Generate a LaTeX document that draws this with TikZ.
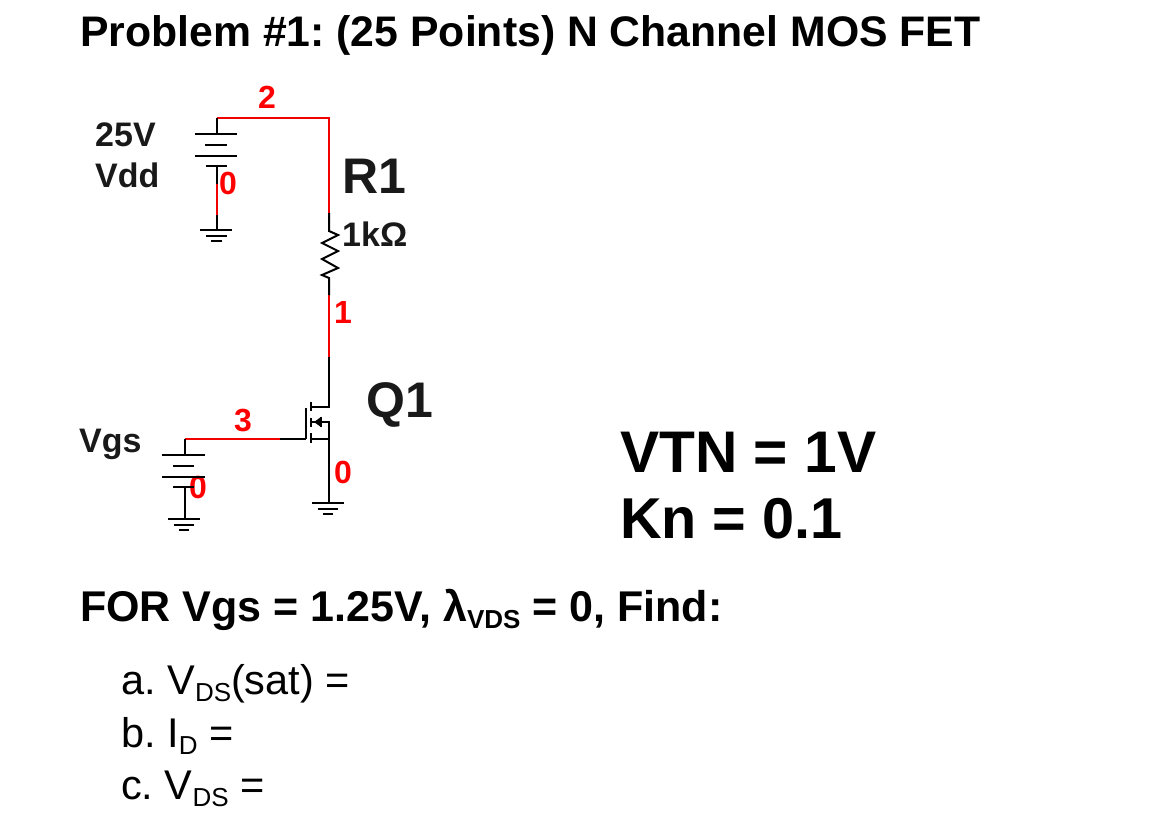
\documentclass[tikz,border=0pt]{standalone}
\usepackage{fontspec}
\setmainfont{Liberation Sans}
\newcommand{\fsz}[1]{\fontsize{#1}{#1}\selectfont}
\newcommand{\subt}[2]{\raisebox{-0.18em}{\fsz{#1}#2}}
\tikzset{
  wire/.style={line width=2pt,black},
  net/.style={line width=2pt,red!95!black},
  netlab/.style={inner sep=0pt,anchor=center,text=red,font=\fsz{32}\bfseries},
  schem/.style={inner sep=0pt,anchor=base west,text=black!90,font=\fsz{34}\bfseries},
  bigref/.style={inner sep=0pt,anchor=base west,font=\fsz{50}\bfseries,text=black!90},
  big/.style={inner sep=0pt,anchor=base west,text=black},
  head/.style={inner sep=0pt,anchor=base west,text=black},
  item/.style={inner sep=0pt,anchor=base west,text=black,font=\fsz{41.5}\frenchspacing}
}
\begin{document}
\begin{tikzpicture}[x=1pt,y=-1pt]
\useasboundingbox (0,0) rectangle (1171,823);
\fill[white] (0,0) rectangle (1171,823);
% Text
\node[head,font=\fsz{42.75}\bfseries\frenchspacing] (title) at (80,46) {Problem \#1: (25 Points) N Channel MOS FET};
\node[schem] (v25) at (95,146.5) {25V};
\node[schem] (vdd) at (95,187) {Vdd};
\node[schem] (vgs) at (79,452) {Vgs};
\node[bigref] (r1) at (342,193) {R1};
\node[schem] (rv) at (342,246) {1k\char"03A9};
\node[bigref] (q1) at (366,417) {Q1};
\node[big,font=\fsz{58.7}\bfseries] (vtn) at (620,472) {VTN = 1V};
\node[big,font=\fsz{57.6}\bfseries] (kn) at (620,538) {Kn = 0.1};
\node[head,font=\fsz{43}\bfseries] (for) at (80,621) {FOR Vgs = 1.25V, \char"03BB\subt{26}{VDS} = 0, Find:};
\node[item] (a) at (121,694) {a. V\subt{26}{DS}(sat) =};
\node[item] (b) at (121,747) {b. I\subt{26}{D} =};
\node[item] (c) at (121,799) {c. V\subt{26}{DS} =};
\node[netlab] (n2) at (267,97) {2};
\node[netlab] (n0a) at (228,183) {0};
\node[netlab] (n1) at (343,312) {1};
\node[netlab] (n3) at (243,420) {3};
\node[netlab] (n0b) at (343,472) {0};
\node[netlab] (n0c) at (198,487) {0};
% Coordinates
\coordinate (bt) at (216.5,118);
\coordinate (rt) at (329,118);
\coordinate (b1a) at (216.5,134);
\coordinate (b1b) at (216.5,166);
\coordinate (b1m) at (216.5,184);
\coordinate (b1n) at (216.5,215);
\coordinate (g1) at (216.5,230);
\coordinate (r1a) at (329,213);
\coordinate (r1b) at (329,231);
\coordinate (r1c) at (329,278);
\coordinate (r1d) at (329,295);
\coordinate (dn) at (329,357);
\coordinate (dd) at (329,407);
\coordinate (ds) at (311,407);
\coordinate (sm) at (329,422);
\coordinate (sc) at (311,422);
\coordinate (sb) at (311,439);
\coordinate (sj) at (329,439);
\coordinate (g3) at (329,503);
\coordinate (gp) at (306,439);
\coordinate (gk) at (280,439);
\coordinate (gw) at (184.5,439);
\coordinate (b2a) at (184.5,455);
\coordinate (b2b) at (184.5,487);
\coordinate (g2) at (184.5,519);
% Red nets
\draw[net] (bt) -- (rt) -- (r1a);
\draw[net] (b1m) -- (b1n);
\draw[net] (r1d) -- (dn);
\draw[net] (gw) -- (gk);
% Black wires
\draw[wire] (bt) -- (b1a);
\draw[wire] (b1b) -- (b1m) (b1n) -- (g1);
\draw[wire] (r1a) -- (r1b) -- ++(9,4) -- ++(-16,8) -- ++(16,8) -- ++(-16,8) -- ++(16,9) -- ++(-16,7) -- (r1c) -- (r1d);
\draw[wire] (dn) -- (dd) -- (ds);
\draw[wire] (sc) -- (sm) -- (g3);
\draw[wire] (sb) -- (sj);
\draw[wire] (gk) -- (gp);
\draw[wire] (gp |- 0,408) -- (gp);
\draw[wire] (311,402) -- (311,411) (311,418) -- (311,427) (311,433) -- (311,443);
\fill[black] (314,422) -- (321,417) -- (321,427) -- cycle;
\draw[wire] (321,417) -- (321,427);
\draw[wire] (gw) -- (b2a);
\draw[wire] (b2b) -- (g2);
% Batteries
\draw[wire] (195,134) -- (237,134) (205,145) -- (227,145) (195,156) -- (237,156) (206,166) -- (227,166);
\draw[wire] (162,455) -- (205,455) (173,466) -- (194,466) (162,477) -- (205,477) (173,487) -- (194,487);
% Grounds
\draw[wire] (200,230) -- (232,230) (206,235.5) -- (227,235.5) (211,241) -- (222,241);
\draw[wire] (168,519) -- (200,519) (174,525) -- (194,525) (179,530) -- (189,530);
\draw[wire] (312,503) -- (344,503) (318,509) -- (338,509) (323,514) -- (333,514);
\end{tikzpicture}
\end{document}
